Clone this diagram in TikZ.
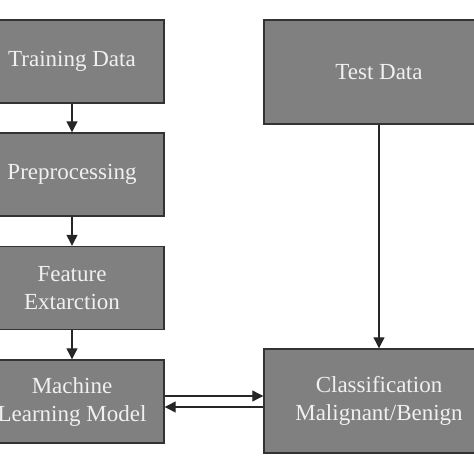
\documentclass[tikz,border=0pt]{standalone}
\usepackage{fontspec}
\setmainfont{Liberation Serif}
\usetikzlibrary{arrows.meta}
\begin{document}
\begin{tikzpicture}[x=1pt,y=-1pt,
  box/.style={draw=black!80,line width=1.4pt,fill=black!50,text=white!94!black,
    minimum width=#1,minimum height=83pt,inner sep=0pt,align=center,
    font=\fontsize{23}{28}\selectfont},
  conn/.style={draw=black!85,line width=1.2pt,-{Triangle[length=11pt,width=11pt]}}]
\useasboundingbox (0,0) rectangle (474,474);
\begin{scope}
\clip (0,0) rectangle (474,474);
\node[box=184pt] (train) at (72,61.5) {Training Data};
\node[box=184pt] (pre) at (72,174.5) {Preprocessing};
\node[box=184pt] (feat) at (72,288) {Feature\\Extarction};
\node[box=184pt] (ml) at (72,401.5) {Machine\\Learning Model};
\node[box=230pt,minimum height=104pt] (test) at (379,72) {Test Data};
\node[box=230pt,minimum height=104pt] (cls) at (379,401) {Classification\\Malignant/Benign};
\draw[conn] (train) -- (pre);
\draw[conn] (pre) -- (feat);
\draw[conn] (feat) -- (ml);
\draw[conn] (test) -- (cls);
\draw[conn] (ml.east |- 0,396) -- (cls.west |- 0,396);
\draw[conn] (cls.west |- 0,407) -- (ml.east |- 0,407);
\end{scope}
\end{tikzpicture}
\end{document}
